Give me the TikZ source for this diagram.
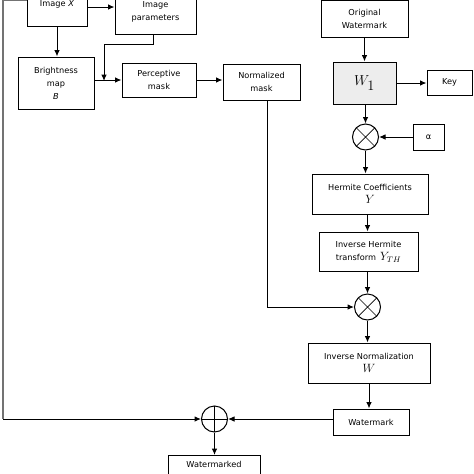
\documentclass[tikz,border=0pt]{standalone}
\usepackage{fontspec}
\setmainfont{DejaVu Sans}
\usetikzlibrary{arrows.meta, positioning, calc}

\begin{document}
\begin{tikzpicture}[
    x=1pt, y=-1pt,
    font=\fontsize{8.2}{13}\selectfont,
    block/.style={draw, line width=1pt, align=center, inner sep=1pt},
    mult/.style={draw, circle, line width=1pt, minimum size=26pt, inner sep=0pt,
        path picture={\draw[line width=0.7pt] (path picture bounding box.north west) -- (path picture bounding box.south east)
            (path picture bounding box.north east) -- (path picture bounding box.south west);}},
    adder/.style={draw, circle, line width=1pt, minimum size=26pt, inner sep=0pt,
        path picture={\draw[line width=0.7pt] (path picture bounding box.north) -- (path picture bounding box.south)
            (path picture bounding box.west) -- (path picture bounding box.east);}},
    arrow/.style={-{Latex[length=6.5pt,width=5.5pt]}, line width=1pt}
]
    \clip (0,0) rectangle (474,474);

    % Image side
    \node[block, minimum width=60, minimum height=44] (imgx) at (57,4) {Image \textit{X}};
    \node[block, minimum width=81, minimum height=45] (params) at (155.5,11.5) {Image\\parameters};
    \node[block, minimum width=76, minimum height=52] (bright) at (56,83) {Brightness\\map\\\textit{B}};
    \node[block, minimum width=74, minimum height=34] (percep) at (159,80) {Perceptive\\mask};
    \node[block, minimum width=77, minimum height=36] (normmask) at (261.5,82) {Normalized\\mask};

    % Watermark side
    \node[block, minimum width=87, minimum height=37] (orig) at (364.5,18.5) {Original\\Watermark};
    \node[block, fill=gray!14, minimum width=63, minimum height=42] (wone) at (364.5,83) {\fontsize{15}{15}\selectfont$W_{\textstyle 1}$};
    \node[block, minimum width=45, minimum height=25] (key) at (449.5,82.5) {Key};
    \node[mult] (multa) at (365.5,137) {};
    \node[block, minimum width=31, minimum height=26] (alpha) at (428.5,137) {α};
    \node[block, minimum width=116, minimum height=40] (herm) at (370,194) {Hermite Coefficients\\{\fontsize{12}{12}\selectfont$Y$}};
    \node[block, minimum width=99, minimum height=39] (invherm) at (368.5,251.5) {Inverse Hermite\\transform\enspace{\fontsize{12}{12}\selectfont$Y_{TH}$}};
    \node[mult] (multb) at (367.5,307) {};
    \node[block, minimum width=122, minimum height=40] (invnorm) at (369,363) {Inverse Normalization\\{\fontsize{12}{12}\selectfont$W$}};
    \node[block, minimum width=76, minimum height=26] (wmark) at (371,422) {Watermark};
    \node[adder] (plus) at (214.5,419) {};
    \node[block, anchor=north, minimum width=92, text height=10pt, text depth=20pt, inner ysep=2pt] (wmarked) at (214,455) {Watermarked};
    \coordinate (pm) at (104,81);
    \coordinate (lcorner) at (3,419);

    % Arrows
    \draw[arrow] ([yshift=-3]imgx.east) -- ([yshift=-3]imgx.east -| params.west);
    \draw[arrow] (imgx.south) -- (imgx.south |- bright.north);
    \draw[line width=1.5pt, black!55] ([yshift=4]imgx.west) -| (lcorner);
    \draw[arrow] (lcorner) -- (plus.west);
    \draw[arrow] ([xshift=-2.5]params.south) -- ++(0,10) -| (pm);
    \draw[arrow] (bright.east |- percep.west) -- (percep.west);
    \draw[arrow] (percep.east) -- (percep.east -| normmask.west);
    \draw[arrow] ([xshift=5.5]normmask.south) |- (multb.west);
    \draw[arrow] (orig.south) -- (orig.south |- wone.north);
    \draw[arrow] (wone.east) -- (wone.east -| key.west);
    \draw[arrow] (wone.south -| multa) -- (multa.north);
    \draw[arrow] (alpha.west) -- (multa.east);
    \draw[arrow] (multa.south) -- (multa.south |- herm.north);
    \draw[arrow] (herm.south -| multb) -- (multb |- invherm.north);
    \draw[arrow] (invherm.south -| multb) -- (multb.north);
    \draw[arrow] (multb.south) -- (multb.south |- invnorm.north);
    \draw[arrow] (invnorm.south) -- (invnorm.south |- wmark.north);
    \draw[arrow] (wmark.west |- plus) -- (plus.east);
    \draw[arrow] (plus.south) -- (plus.south |- wmarked.north);
\end{tikzpicture}
\end{document}
